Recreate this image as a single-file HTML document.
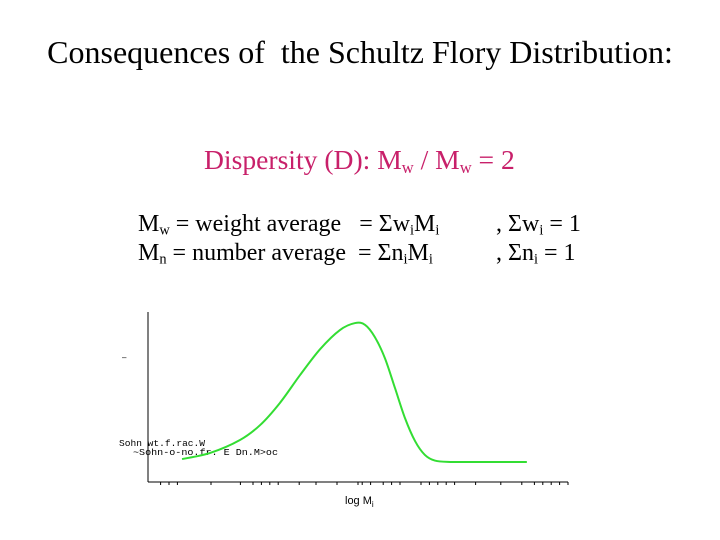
<!DOCTYPE html>
<html><head><meta charset="utf-8"><style>
body{margin:0;width:720px;height:540px;background:#fff;position:relative;overflow:hidden;font-family:"Liberation Serif",serif}
.t{position:absolute;white-space:nowrap;color:#000}
sub{font-size:60%;vertical-align:-0.25em}
</style></head><body>
<div class="t" style="left:0;width:720px;text-align:center;top:34px;font-size:32px">Consequences of&nbsp; the Schultz Flory Distribution:</div>
<div class="t" style="left:204px;top:144px;font-size:27.6px;color:#c8206a">Dispersity (D): M<sub>w</sub> / M<sub>w</sub> = 2</div>
<div class="t" style="left:138px;top:211px;font-size:24px">M<sub>w</sub> = weight average&nbsp;&nbsp; = Σw<sub>i</sub>M<sub>i</sub></div>
<div class="t" style="left:138px;top:240px;font-size:24px">M<sub>n</sub> = number average&nbsp; = Σn<sub>i</sub>M<sub>i</sub></div>
<div class="t" style="left:496px;top:211px;font-size:24px">, Σw<sub>i</sub> = 1</div>
<div class="t" style="left:496px;top:240px;font-size:24px">, Σn<sub>i</sub> = 1</div>
<svg id="chart" width="720" height="540" style="position:absolute;left:0;top:0">
<line x1="148" y1="312" x2="148" y2="482" stroke="#000" stroke-width="1"/>
<line x1="148" y1="482" x2="568" y2="482" stroke="#000" stroke-width="1"/>
<text x="122" y="360" font-family="Liberation Sans,sans-serif" font-size="8">–</text>
<text x="119" y="446" font-family="Liberation Mono,monospace" font-size="9" textLength="86" lengthAdjust="spacingAndGlyphs">Sohn wt.f.rac.W</text>
<text x="133" y="455" font-family="Liberation Mono,monospace" font-size="9" textLength="145" lengthAdjust="spacingAndGlyphs">~Sohn-o-no.fr. E Dn.M&gt;oc</text>
<text x="345" y="504" font-family="Liberation Sans,sans-serif" font-size="11">log M<tspan font-size="8" dy="3">i</tspan></text>
<g id="ticks"></g>
<path id="curve" fill="none" stroke="#33dd33" stroke-width="2"/>
</svg>
<script>
const logM=[8.1,14.8,21.9,26.7,31.4,36.2,41.0,45.7,49.3,51.7,54.0,56.4,58.8,61.2,63.6,65.9,68.3,72.0,79.0,90.2];
const weightFrac=[13.5,17.1,24.7,33.5,46.5,62.9,78.2,89.4,93.5,92.4,85.3,72.9,55.3,37.5,24.0,16.0,12.6,11.8,11.8,11.8];
const tickVals=[3,5,7,15,22,25,27,29,31,36,40,45,50,51,53,56,58,60,65,67,69,71,73,78,84,89,92,94,96,98,100];
const X=v=>148+v*4.2, Y=v=>482-v*1.7;
const pts=logM.map((v,i)=>[X(v),Y(weightFrac[i])]);
let d='M'+pts[0][0]+','+pts[0][1];
for(let i=0;i<pts.length-1;i++){
 const p0=pts[i-1]||pts[i],p1=pts[i],p2=pts[i+1],p3=pts[i+2]||p2;
 d+=' C'+(p1[0]+(p2[0]-p0[0])/6)+','+(p1[1]+(p2[1]-p0[1])/6)+' '+(p2[0]-(p3[0]-p1[0])/6)+','+(p2[1]-(p3[1]-p1[1])/6)+' '+p2[0]+','+p2[1];
}
document.getElementById('curve').setAttribute('d',d);
const g=document.getElementById('ticks');
tickVals.forEach(v=>{
 const l=document.createElementNS('http://www.w3.org/2000/svg','line');
 
 
 l.setAttribute('x1',X(v));l.setAttribute('x2',X(v));
 l.setAttribute('y1',482);l.setAttribute('y2',485);
 l.setAttribute('stroke','#000');
 g.appendChild(l);
});
</script>
</body></html>
